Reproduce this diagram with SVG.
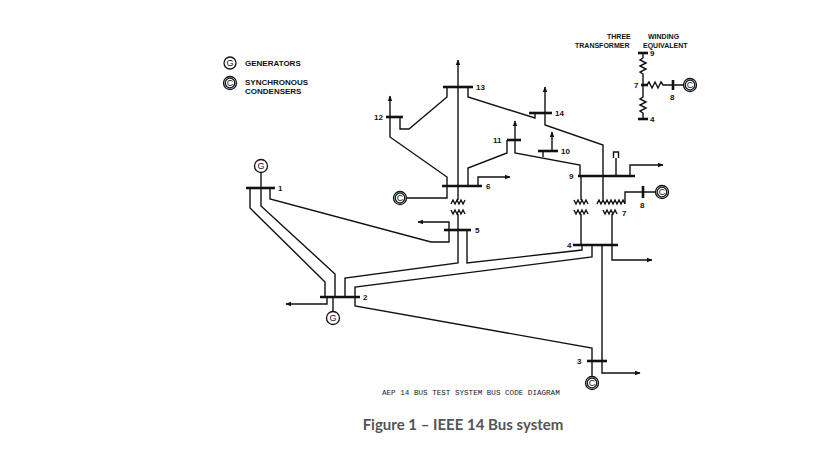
<svg xmlns="http://www.w3.org/2000/svg" width="822" height="466" viewBox="0 0 822 466">
<style>
.w{fill:none;stroke:#111;stroke-width:1.4;stroke-linejoin:miter}
.bar{stroke:#111;stroke-width:2.6}
.t{font-family:"Liberation Sans",Arial,sans-serif;font-weight:bold;font-size:8px;fill:#111}
.s{font-family:"Liberation Sans",Arial,sans-serif;font-weight:bold;font-size:7px;fill:#111}
.g{fill:#fff;stroke:#111;stroke-width:1.3}
.gl{font-family:"Liberation Sans",Arial,sans-serif;font-size:9px;fill:#111;text-anchor:middle}
</style>
<defs>
<marker id="ar" viewBox="0 0 10 10" refX="9" refY="5" markerWidth="6" markerHeight="6" orient="auto" markerUnits="userSpaceOnUse"><path d="M0,1 L10,5 L0,9 z" fill="#111"/></marker>
</defs>
<rect width="822" height="466" fill="#fff"/>
<g id="legend">
<circle class="g" cx="230" cy="63" r="6"/><text class="gl" x="230" y="66.3">G</text>
<text class="t" x="245" y="66">GENERATORS</text>
<circle class="g" cx="230" cy="83" r="6.5" stroke-width="2"/><circle class="g" cx="230" cy="83" r="4.8"/><text class="gl" x="230" y="86.3">C</text>
<text class="t" x="245" y="85">SYNCHRONOUS</text>
<text class="t" x="245" y="94">CONDENSERS</text>
</g>
<g id="connectors">
<path class="w" d="M250,188 V208 L325,282 V297"/>
<path class="w" d="M261,188 V206 L335,274 V297"/>
<path class="w" d="M270,188 V199 L431,242 H449 V230"/>
<path class="w" d="M261,188 V173"/>
<path class="w" d="M345,297 V278 L458,263 V230"/>
<path class="w" d="M467,230 V263 L582,250 V245"/>
<path class="w" d="M355,297 V287 L592,257 V245"/>
<path class="w" d="M355,297 V306 L592,348 V361"/>
<path class="w" d="M602,245 V361"/>
<path class="w" d="M327,297 V304 H286" marker-end="url(#ar)"/>
<path class="w" d="M333,297 V312"/>
<path class="w" d="M449,230 V222 H418" marker-end="url(#ar)"/>
<path class="w" d="M458,230 V214 M451,210 l2,4 l2,-4 l2,4 l2,-4 l2,4 l2,-4 l2,4 M451,204 l2,-4 l2,4 l2,-4 l2,4 l2,-4 l2,4 l2,-4 M458,200 V186"/>
<path class="w" d="M458,186 V60" marker-end="url(#ar)"/>
<path class="w" d="M478,186 V177 H510" marker-end="url(#ar)"/>
<path class="w" d="M406,198 H447 V186"/>
<path class="w" d="M390,117 V137 L447,177 V186"/>
<path class="w" d="M390,117 V96" marker-end="url(#ar)"/>
<path class="w" d="M400,117 V129 H409 L447,97 V87"/>
<path class="w" d="M468,186 V168 L507,153 V140"/>
<path class="w" d="M468,87 V97 L535,118 V113"/>
<path class="w" d="M545,113 V87" marker-end="url(#ar)"/>
<path class="w" d="M545,113 V125 L603,145 V176"/>
<path class="w" d="M515,140 V121" marker-end="url(#ar)"/>
<path class="w" d="M515,140 V153 L580,165 V176"/>
<path class="w" d="M543,151 V157"/>
<path class="w" d="M552,151 V132" marker-end="url(#ar)"/>
<path class="w" d="M630,176 V165 H663" marker-end="url(#ar)"/>
<path class="w" d="M616,176 V158 M613.5,158 V152 H618.5 V158"/>
<path class="w" d="M581,176 V200 M574,200 l2,4 l2,-4 l2,4 l2,-4 l2,4 l2,-4 l2,4 M574,210 l2,4 l2,-4 l2,4 l2,-4 l2,4 l2,-4 l2,4 M581,214 V245"/>
<path class="w" d="M603,176 V200 M597,204 l2,-4 l2,4 l2,-4 l2,4 l2,-4 l2,4 l2,-4 l2,4 l2,-4 l2,4 l2,-4 l2,4 l2,-4 l2,4 M625,204 V192 H656"/>
<path class="w" d="M603,210 l2,4 l2,-4 l2,4 l2,-4 l2,4 l2,-4 l2,4 M612,214 V260 H652" marker-end="url(#ar)"/>
<path class="w" d="M602,361 V373 H640" marker-end="url(#ar)"/>
<path class="w" d="M592,361 V377"/>
<path class="w" d="M643,53 V58 M643,58 l-3,2 l6,3 l-6,3 l6,3 l-6,3 l3,2 V97 l-3,2 l6,3 l-6,3 l6,3 l-6,3 l3,2 V119 M643,85 H647 l2,-3 l3,6 l3,-6 l3,6 l3,-6 l2,3 H684"/>
</g>
<g id="bus1"><line class="bar" x1="246" y1="188" x2="275" y2="188"/><text class="t" x="278" y="191">1</text><circle class="g" cx="261" cy="166" r="6.5"/><text class="gl" x="261" y="169.3">G</text></g>
<g id="bus2"><line class="bar" x1="320" y1="297" x2="360" y2="297"/><text class="t" x="363" y="300">2</text><circle class="g" cx="333" cy="318" r="6.5"/><text class="gl" x="333" y="321.3">G</text></g>
<g id="bus3"><line class="bar" x1="587" y1="361" x2="607" y2="361"/><text class="t" x="577" y="364">3</text><circle class="g" cx="592" cy="383" r="6.5" stroke-width="2"/><circle class="g" cx="592" cy="383" r="4.8"/><text class="gl" x="592" y="386.3">C</text></g>
<g id="bus4"><line class="bar" x1="573" y1="245" x2="618" y2="245"/><text class="t" x="567" y="248">4</text></g>
<g id="bus5"><line class="bar" x1="444" y1="230" x2="471" y2="230"/><text class="t" x="475" y="233">5</text></g>
<g id="bus6"><line class="bar" x1="442" y1="186" x2="482" y2="186"/><text class="t" x="486" y="189">6</text><circle class="g" cx="400" cy="198" r="6.5" stroke-width="2"/><circle class="g" cx="400" cy="198" r="4.8"/><text class="gl" x="400" y="201.3">C</text></g>
<g id="bus8"><line class="bar" x1="643" y1="186" x2="643" y2="198"/><text class="t" x="640" y="208">8</text><circle class="g" cx="662" cy="192" r="6.5" stroke-width="2"/><circle class="g" cx="662" cy="192" r="4.8"/><text class="gl" x="662" y="195.3">C</text><text class="t" x="622" y="216">7</text></g>
<g id="bus9"><line class="bar" x1="578" y1="176" x2="635" y2="176"/><text class="t" x="569" y="179">9</text></g>
<g id="bus10"><line class="bar" x1="538" y1="151" x2="558" y2="151"/><text class="t" x="561" y="154">10</text></g>
<g id="bus11"><line class="bar" x1="507" y1="140" x2="521" y2="140"/><text class="t" x="493" y="143">11</text></g>
<g id="bus12"><line class="bar" x1="386" y1="117" x2="403" y2="117"/><text class="t" x="374" y="120">12</text></g>
<g id="bus13"><line class="bar" x1="443" y1="87" x2="473" y2="87"/><text class="t" x="476" y="90">13</text></g>
<g id="bus14"><line class="bar" x1="529" y1="113" x2="552" y2="113"/><text class="t" x="555" y="116">14</text></g>
<g id="threewinding">
<text class="s" x="607" y="39">THREE</text><text class="s" x="648" y="39">WINDING</text>
<text class="s" x="575" y="47.5">TRANSFORMER</text><text class="s" x="643" y="47.5">EQUIVALENT</text>
<line class="bar" x1="638" y1="53" x2="648" y2="53"/><text class="t" x="650" y="56">9</text>
<line class="bar" x1="641" y1="85" x2="648" y2="85"/><text class="t" x="634" y="88">7</text>
<line class="bar" x1="673" y1="80" x2="673" y2="90"/><text class="t" x="670" y="100">8</text>
<circle class="g" cx="690" cy="85" r="6.5" stroke-width="2"/><circle class="g" cx="690" cy="85" r="4.8"/><text class="gl" x="690" y="88.3">C</text>
<line class="bar" x1="638" y1="119" x2="648" y2="119"/><text class="t" x="650" y="122">4</text>
</g>
<text x="382" y="395" font-family="Liberation Mono,monospace" font-size="7.6" fill="#222">AEP 14 BUS TEST SYSTEM BUS CODE DIAGRAM</text>
<text x="463" y="430" font-family="Lato,'Liberation Sans',sans-serif" font-weight="bold" font-size="15" fill="#555" text-anchor="middle">Figure 1 – IEEE 14 Bus system</text>
</svg>
